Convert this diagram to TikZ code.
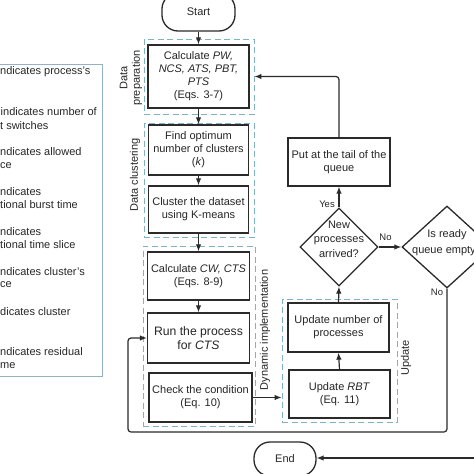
\documentclass[tikz,border=0pt]{standalone}
\usepackage{fontspec}
\setmainfont{Liberation Sans}
\usetikzlibrary{shapes.geometric,arrows.meta}
\definecolor{lineC}{HTML}{2A2A2A}
\definecolor{dashC}{HTML}{7FB2C6}
\definecolor{legC}{HTML}{93B3C3}
\definecolor{txtC}{HTML}{262626}
\begin{document}
\begin{tikzpicture}[x=1pt,y=-1pt,
  font=\fontsize{11}{13}\selectfont, text=txtC,
  box/.style={draw=lineC, line width=1.3pt, fill=white, align=center, inner sep=1pt},
  termbox/.style={draw=lineC, line width=1.3pt, fill=white, rounded corners=16pt, align=center},
  region/.style={draw=dashC, line width=0.9pt, dash pattern=on 6pt off 3.5pt},
  conn/.style={draw=lineC, line width=1.2pt, -{Latex[length=7pt,width=5.5pt]}},
  sidelabel/.style={rotate=90, align=center, font=\fontsize{11}{12.5}\selectfont},
  smalllab/.style={font=\fontsize{9.5}{11}\selectfont},
  legtext/.style={anchor=west, inner sep=0pt, text=txtC},
  diam/.style={diamond, draw=lineC, line width=1.3pt, fill=white, inner sep=0pt}]
\useasboundingbox (0,0) rectangle (474,474);
\clip (0,0) rectangle (474,474);

% legend
\node[draw=legC, line width=1pt, minimum width=106pt, minimum height=312pt, inner sep=0pt] (legend) at (49,220) {};
\node[legtext] (l1a) at (0,72) {ndicates process's};
\node[legtext] (l2a) at (0.5,112) {indicates number of};
\node[legtext] (l2b) at (0,126) {t switches};
\node[legtext] (l3a) at (0,152) {ndicates allowed};
\node[legtext] (l3b) at (0,166) {ce};
\node[legtext] (l4a) at (0,192) {ndicates};
\node[legtext] (l4b) at (0,205) {tional burst time};
\node[legtext] (l5a) at (0,232) {ndicates};
\node[legtext] (l5b) at (0,245) {tional time slice};
\node[legtext] (l6a) at (0,272) {ndicates cluster's};
\node[legtext] (l6b) at (0,285) {ce};
\node[legtext] (l7a) at (0,312) {dicates cluster};
\node[legtext] (l8a) at (0,352) {ndicates residual};
\node[legtext] (l8b) at (0,366) {me};

% dashed regions
\node[region, minimum width=110pt, minimum height=75pt] (dp) at (199,76.5) {};
\node[region, minimum width=110pt, minimum height=114pt] (dc) at (199,180) {};
\node[region, minimum width=112pt, minimum height=180pt] (di) at (199,336) {};
\node[region, minimum width=115pt, minimum height=123pt] (up) at (339.5,360.5) {};

\node[sidelabel] (ldp) at (131,78) {Data\\preparation};
\node[sidelabel] (ldc) at (135,175) {Data clustering};
\node[sidelabel] (ldi) at (265,330) {Dynamic implementation};
\node[sidelabel] (lup) at (406,358) {Update};

% terminals
\node[termbox, minimum width=73pt, minimum height=38pt] (start) at (198.5,12) {Start};
\node[termbox, minimum width=62pt, minimum height=34pt] (end) at (285,459) {End};

% left column
\node[box, minimum width=101pt, minimum height=63pt] (b1) at (198.5,76.5)
  {Calculate \textit{PW,}\\\textit{NCS, ATS, PBT,}\\\textit{PTS}\\(Eqs. 3-7)};
\node[box, minimum width=100pt, minimum height=50pt] (b2) at (198.5,150)
  {Find optimum\\number of clusters\\(\textit{k})};
\node[box, minimum width=100pt, minimum height=47pt] (b3) at (198.5,209.5)
  {Cluster the dataset\\using K-means};
\node[box, minimum width=102pt, minimum height=48pt] (b4) at (198.5,276)
  {Calculate \textit{CW, CTS}\\(Eqs. 8-9)};
\node[box, minimum width=102pt, minimum height=50pt, font=\fontsize{12.2}{14}\selectfont] (b5) at (198.5,338)
  {Run the process\\for \textit{CTS}};
\node[box, minimum width=103pt, minimum height=49pt] (b6) at (200.5,397.5)
  {Check the condition\\(Eq. 10)};

% right column
\node[box, minimum width=102pt, minimum height=48pt] (put) at (339,162)
  {Put at the tail of the\\queue};
\node[box, minimum width=101pt, minimum height=49pt] (updn) at (338.5,327.5)
  {Update number of\\processes};
\node[box, minimum width=101pt, minimum height=48pt] (rbt) at (339.5,394)
  {Update \textit{RBT}\\(Eq. 11)};

\node[diam, minimum width=78pt, minimum height=78pt] (d1) at (339,247) {};
\node[align=center, inner sep=0pt, font=\fontsize{11}{14.5}\selectfont] (d1t) at (339,239) {New\\processes\\arrived?};
\node[diam, minimum width=90pt, minimum height=82pt] (d2) at (447,247) {};
\node[align=center, inner sep=0pt, font=\fontsize{11}{16}\selectfont] (d2t) at (447,243) {Is ready\\queue empty?};

% connectors
\draw[conn] (start.south) -- (b1.north);
\draw[conn] (b1.south) -- (b2.north);
\draw[conn] (b2.south) -- (b3.north);
\draw[conn] (b3.south) -- (b4.north);
\draw[conn] (b4.south) -- (b5.north);
\draw[conn] (b6.east) -- (b6.east -| up.west);
\draw[conn] (rbt.north) -- (updn.south);
\draw[conn] (updn.north) -- (d1.south);
\draw[conn] (d1.north) -- (put.south);
\draw[conn, rounded corners=3pt] (put.north) |- (dp.east);
\draw[conn] (d1.east) -- (d2.west);
\coordinate (loopr) at (447,432);
\coordinate (loopl) at (128,432);
\draw[conn, rounded corners=3pt] (d2.south) -- (loopr) -- (loopl) |- (b5.west);
\coordinate (endsrc) at (480,458);
\draw[conn] (endsrc) -- (end.east |- endsrc);

\node[smalllab] (yes) at (327,204) {Yes};
\node[smalllab] (no1) at (385.5,237) {No};
\node[smalllab] (no2) at (437,292) {No};
\end{tikzpicture}
\end{document}
